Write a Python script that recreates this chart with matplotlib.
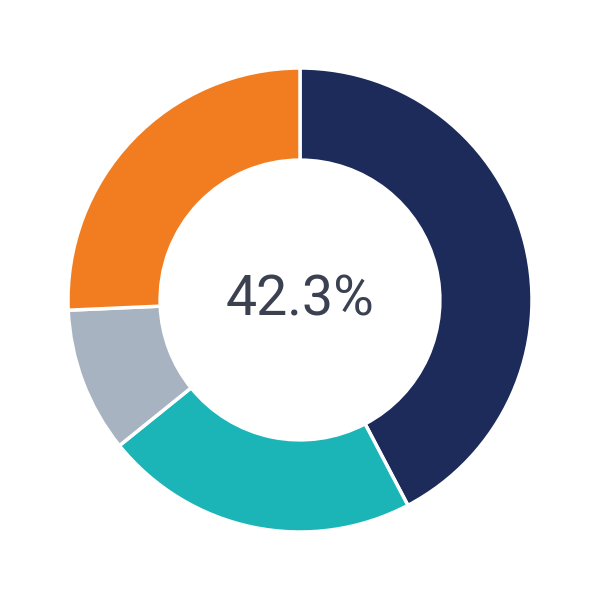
import matplotlib.pyplot as plt

labels = ['Navy', 'Teal', 'Gray', 'Orange']
values = [42.3, 21.9, 10.1, 25.7]
colors = ['#1c2b5a', '#1bb5b7', '#a8b3c1', '#f27d21']
center_label = '42.3%'


def plot_donut():
    fig = plt.figure(figsize=(6, 6), dpi=100)
    ax = fig.add_axes([0, 0, 1, 1])
    ax.pie(values, colors=colors, startangle=90, counterclock=False,
           radius=1.0,
           wedgeprops={'width': 0.397, 'edgecolor': 'white', 'linewidth': 2.5})
    ax.text(0, 0, center_label, ha='center', va='center', fontsize=40,
            family='Roboto', fontweight='normal', color='#3b4150')
    lim = 300 / 232
    ax.set_xlim(-lim, lim)
    ax.set_ylim(-lim, lim)
    ax.set_aspect('equal')
    ax.axis('off')
    fig.savefig('out.png', dpi=100, facecolor='white')


if __name__ == "__main__":
    plot_donut()
